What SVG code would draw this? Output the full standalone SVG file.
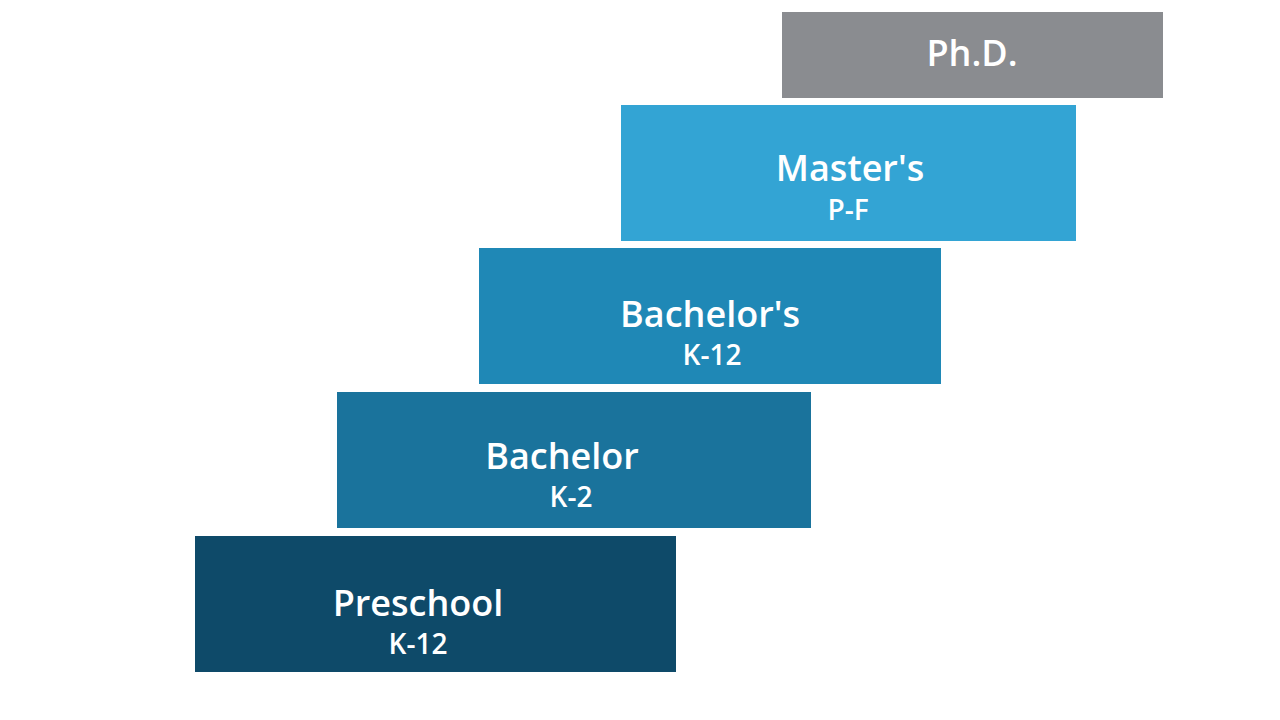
<svg xmlns="http://www.w3.org/2000/svg" width="1280" height="720" viewBox="0 0 1280 720">
<style>
.t{font-family:"Open Sans","DejaVu Sans",sans-serif;font-weight:600;fill:#fff;text-anchor:middle}
.h{font-size:36px}
.s{font-size:28px}
</style>
<rect width="1280" height="720" fill="#fff"/>
<g id="phd"><rect x="782" y="12" width="381" height="86" fill="#8a8c90"/><text class="t h" x="972" y="66">Ph.D.</text></g>
<g id="masters"><rect x="621" y="105" width="455" height="136" fill="#33a4d4"/><text class="t h" x="850" y="181">Master's</text><text class="t s" x="848" y="220">P-F</text></g>
<g id="bachelors"><rect x="479" y="248" width="462" height="136" fill="#1f88b6"/><text class="t h" x="710" y="327">Bachelor's</text><text class="t s" x="712" y="365">K-12</text></g>
<g id="bachelor"><rect x="337" y="392" width="474" height="136" fill="#1a739c"/><text class="t h" x="562" y="469">Bachelor</text><text class="t s" x="571" y="507">K-2</text></g>
<g id="preschool"><rect x="195" y="536" width="481" height="136" fill="#0e4a69"/><text class="t h" x="418" y="616">Preschool</text><text class="t s" x="418" y="654">K-12</text></g>
<g id="connectors"></g>
</svg>
